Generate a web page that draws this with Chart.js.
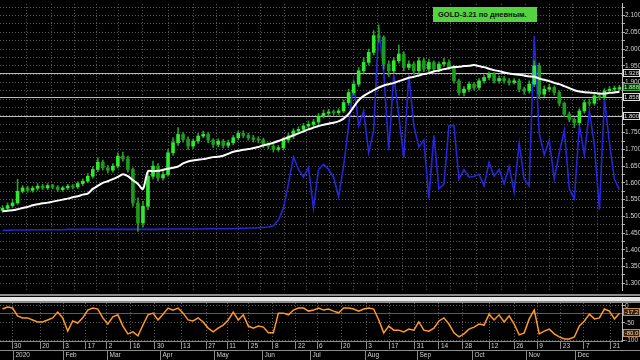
<!DOCTYPE html>
<html>
<head>
<meta charset="utf-8">
<script src="https://cdn.jsdelivr.net/npm/chart.js@4.4.1/dist/chart.umd.min.js"></script>
<style>
  html, body { margin: 0; padding: 0; background: #000; width: 640px; height: 360px; overflow: hidden; }
  #main { position: absolute; left: 0; top: 0; }
  #osc { position: absolute; left: 0; top: 294px; }
  #badge {
    position: absolute; left: 433px; top: 7px; width: 104px; height: 15px;
    background: #52d33f; color: #111; box-sizing: border-box; padding-left: 5px;
    font: bold 7.5px "Liberation Sans", sans-serif; line-height: 15px; white-space: nowrap;
  }
</style>
</head>
<body>
<canvas id="main" width="640" height="294"></canvas>
<canvas id="osc" width="640" height="66"></canvas>
<div id="badge">GOLD-3.21 по дневным.</div>
<script>
// each bar ~ two trading days, Dec 2019 .. Dec 2020
const firstOpen = 1518;
const closes = [
  1524, 1532, 1540, 1575, 1585, 1578, 1584, 1590, 1585, 1592,
  1588, 1580, 1585, 1590, 1588, 1598, 1605, 1620, 1640, 1662,
  1645, 1638, 1650, 1680, 1672, 1640, 1540, 1480, 1530, 1620,
  1650, 1615, 1625, 1690, 1720, 1745, 1730, 1710, 1725, 1740,
  1745, 1728, 1715, 1725, 1712, 1720, 1735, 1748, 1742, 1735,
  1730, 1728, 1712, 1710, 1700, 1705, 1728, 1740, 1755, 1760,
  1770, 1775, 1782, 1800, 1808, 1812, 1810, 1815, 1840, 1870,
  1895, 1935, 1960, 1990, 2040, 2035, 1955, 1935, 1965, 1985,
  1945, 1955, 1935, 1965, 1940, 1960, 1940, 1955, 1960, 1945,
  1905, 1870, 1880, 1895, 1885, 1905, 1915, 1925, 1905, 1912,
  1905, 1900, 1905, 1880, 1875, 1895, 1950, 1865, 1880, 1885,
  1870, 1838, 1805, 1790, 1780, 1815, 1840, 1838, 1860, 1855,
  1875, 1880, 1880, 1885
];
const highs = [
  1532, 1540, 1552, 1611, 1592, 1590, 1590, 1598, 1596, 1598,
  1596, 1592, 1590, 1596, 1595, 1604, 1612, 1628, 1648, 1675,
  1668, 1652, 1658, 1690, 1692, 1680, 1645, 1555, 1545, 1630,
  1665, 1658, 1640, 1700, 1735, 1765, 1752, 1738, 1732, 1748,
  1755, 1750, 1732, 1732, 1730, 1728, 1742, 1755, 1756, 1748,
  1742, 1738, 1734, 1720, 1715, 1712, 1735, 1748, 1762, 1768,
  1778, 1785, 1790, 1808, 1818, 1820, 1818, 1822, 1848, 1880,
  1905, 1945, 1975, 2000, 2055, 2072, 2040, 1965, 1975, 2012,
  1992, 1965, 1962, 1975, 1972, 1970, 1965, 1962, 1972, 1968,
  1952, 1910, 1888, 1902, 1900, 1912, 1922, 1932, 1930, 1920,
  1918, 1912, 1912, 1910, 1886, 1905, 1965, 1958, 1890, 1895,
  1890, 1875, 1842, 1812, 1795, 1822, 1848, 1850, 1868, 1865,
  1882, 1888, 1890, 1892
];
const lows = [
  1512, 1518, 1526, 1536, 1570, 1572, 1572, 1578, 1580, 1580,
  1582, 1574, 1575, 1580, 1582, 1583, 1592, 1600, 1614, 1634,
  1638, 1630, 1632, 1645, 1665, 1632, 1530, 1455, 1468, 1520,
  1612, 1605, 1608, 1620, 1682, 1712, 1722, 1700, 1702, 1718,
  1735, 1720, 1706, 1708, 1704, 1705, 1714, 1728, 1735, 1728,
  1722, 1720, 1705, 1702, 1692, 1694, 1698, 1720, 1732, 1748,
  1752, 1762, 1768, 1775, 1794, 1800, 1802, 1804, 1810, 1832,
  1862, 1888, 1928, 1952, 1982, 2020, 1940, 1918, 1928, 1958,
  1935, 1938, 1925, 1928, 1932, 1932, 1932, 1932, 1948, 1938,
  1898, 1862, 1860, 1872, 1878, 1878, 1898, 1908, 1898, 1898,
  1898, 1892, 1895, 1872, 1865, 1868, 1888, 1852, 1858, 1872,
  1862, 1830, 1798, 1782, 1765, 1772, 1808, 1830, 1832, 1848,
  1850, 1868, 1872, 1875
];
// white moving average
const maLine = [
  1515, 1517, 1518, 1521, 1525, 1528, 1533, 1536, 1539, 1541,
  1544, 1547, 1550, 1553, 1557, 1560, 1565, 1568, 1582, 1591,
  1600, 1605, 1611, 1618, 1626, 1620, 1608, 1597, 1582, 1635,
  1635, 1636, 1639, 1642, 1645, 1649, 1658, 1664, 1667, 1669,
  1671, 1674, 1677, 1678, 1681, 1687, 1693, 1696, 1699, 1701,
  1704, 1707, 1712, 1716, 1720, 1725, 1731, 1736, 1742, 1748,
  1754, 1760, 1765, 1770, 1774, 1777, 1780, 1784, 1792, 1806,
  1827, 1847, 1860, 1869, 1877, 1885, 1891, 1895, 1899, 1904,
  1909, 1914, 1917, 1921, 1925, 1928, 1933, 1936, 1940, 1943,
  1946, 1947, 1949, 1950, 1952, 1949, 1946, 1941, 1937, 1934,
  1930, 1927, 1925, 1923, 1921, 1918, 1917, 1912, 1908, 1904,
  1899, 1895, 1889, 1883, 1877, 1873, 1871, 1870, 1869, 1867,
  1867, 1869, 1870, 1872
];
// blue indicator line (price scale)
const blueLine = [
  1458, 1458, 1459, 1459, 1459, 1459, 1460, 1460, 1460, 1460,
  1460, 1460, 1460, 1461, 1461, 1461, 1461, 1461, 1461, 1461,
  1461, 1461, 1461, 1461, 1461, 1461, 1461, 1461, 1461, 1461,
  1461, 1461, 1462, 1462, 1462, 1462, 1462, 1462, 1462, 1462,
  1462, 1463, 1463, 1463, 1463, 1463, 1463, 1464, 1464, 1465,
  1465, 1466, 1467, 1468, 1472, 1489, 1524, 1597, 1678, 1640,
  1617, 1646, 1524, 1640, 1655, 1640, 1617, 1559, 1649, 1771,
  1902, 1771, 1815, 1690, 1757, 2062, 1931, 1698, 1923, 1801,
  1675, 1923, 1771, 1707, 1728, 1553, 1742, 1582, 1597, 1771,
  1771, 1611, 1640, 1617, 1620, 1626, 1591, 1661, 1620, 1640,
  1597, 1649, 1573, 1719, 1611, 1591, 2039, 1748, 1684, 1728,
  1611, 1690, 1757, 1582, 1553, 1771, 1684, 1815, 1713, 1520,
  1850, 1720, 1610, 1580
];
// oscillator (0 .. -100)
const wpr = [
  -9, -3, -6, -29, -35, -35, -41, -47, -47, -41,
  -35, -18, -35, -74, -44, -50, -35, -12, -6, -9,
  -35, -53, -32, -26, -59, -82, -76, -88, -56, -26,
  -21, -41, -24, -6, -12, -6, -21, -41, -44, -35,
  -47, -65, -76, -65, -56, -41, -18, -41, -26, -59,
  -65, -59, -62, -79, -79, -21, -21, -26, -12, -6,
  -6, -15, -12, -6, -12, -9, -15, -20, -6, -6,
  -9, -15, -9, -6, -9, -41, -79, -59, -71, -71,
  -76, -68, -71, -47, -71, -74, -65, -44, -35, -53,
  -79, -91, -82, -68, -62, -53, -56, -24, -41, -26,
  -47, -29, -53, -85, -79, -38, -12, -82, -74, -68,
  -82, -91, -97, -97, -91, -59, -44, -24, -38, -35,
  -9, -15, -38, -21
];

// time axis (in bar units)
const dayTickPos = [1.9, 7.5, 12.1, 16.6, 20.8, 25.6, 30.4, 35.6, 40.6, 44.8, 49.1, 53.9, 58.5,
                    62.7, 67.5, 72.5, 77.1, 82.2, 87.0, 91.8, 97.0, 102.0, 106.6, 111.3, 115.9, 121.3];
const dayLabels = ['30', '20', '3', '17', '2', '16', '30', '13', '27', '11', '25', '8', '22',
                   '6', '20', '3', '17', '31', '14', '28', '12', '26', '9', '23', '7', '21'];
const monthPos = [2.0, 12.0, 20.9, 31.4, 42.2, 51.7, 61.3, 72.3, 82.6, 93.5, 104.4, 114.1];
const monthLabels = ['2020', 'Feb', 'Mar', 'Apr', 'May', 'Jun', 'Jul', 'Aug', 'Sep', 'Oct', 'Nov', 'Dec'];

const priceLabels = [1300, 1350, 1400, 1450, 1500, 1550, 1600, 1650, 1700, 1750,
                     1800, 1850, 1900, 1950, 2000, 2050, 2100];
const priceLevels = [1928, 1858, 1800];
const priceMarks = [1928, 1888, 1858, 1800];
const lastPrice = 1888;
const wprTicks = [0, -50, -100];
const wprLevel = -20;
const wprMarks = [-17.2, -80.0];

const GRID = '#5a5a5a';
const AXIS_FONT = { family: 'Liberation Sans', size: 6.5 };
const fmtPrice = v => (v / 1000).toFixed(3);

const idx = closes.map((_, i) => i);
const opens = closes.map((c, i) => i === 0 ? firstOpen : closes[i - 1]);

function markBox(ctx, x, y, text, border, fill, color) {
  ctx.fillStyle = fill;
  ctx.fillRect(x, y - 4, 17, 8);
  ctx.strokeStyle = border;
  ctx.lineWidth = 1;
  ctx.strokeRect(x + 0.5, y - 3.5, 16, 7);
  ctx.fillStyle = color;
  ctx.font = '6px "Liberation Sans"';
  ctx.textAlign = 'center';
  ctx.textBaseline = 'middle';
  ctx.fillText(text, x + 8.5, y + 0.5);
}

const mainDecor = {
  id: 'mainDecor',
  beforeDatasetsDraw(chart) {
    const { ctx, chartArea, scales: { y } } = chart;
    ctx.save();
    ctx.strokeStyle = '#bdbdbd';
    ctx.lineWidth = 1;
    priceLevels.forEach(p => {
      const py = Math.round(y.getPixelForValue(p)) + 0.5;
      ctx.beginPath();
      ctx.moveTo(chartArea.left, py);
      ctx.lineTo(640, py);
      ctx.stroke();
    });
    ctx.restore();
  },
  afterDraw(chart) {
    const { ctx, chartArea, scales: { y } } = chart;
    ctx.save();
    priceMarks.forEach(p => {
      const py = Math.round(y.getPixelForValue(p));
      if (p === lastPrice) markBox(ctx, chartArea.right + 1, py, fmtPrice(p), '#3fae3f', '#0b3a0b', '#9dff9d');
      else markBox(ctx, chartArea.right + 1, py, fmtPrice(p), '#e0e0e0', '#000', '#e0e0e0');
    });
    ctx.restore();
  }
};

new Chart(document.getElementById('main'), {
  type: 'bar',
  data: {
    datasets: [
      {
        type: 'line', order: 0,
        data: idx.map(i => ({ x: i, y: maLine[i] })),
        borderColor: '#ffffff', borderWidth: 2, pointRadius: 0, tension: 0.3
      },
      {
        type: 'bar', order: 1, grouped: false,
        data: idx.map(i => ({ x: i, y: [opens[i], closes[i]] })),
        backgroundColor: c => closes[c.dataIndex] >= opens[c.dataIndex] ? '#2fe82f' : '#1c9c1c',
        barThickness: 3, minBarLength: 1
      },
      {
        type: 'bar', order: 2, grouped: false,
        data: idx.map(i => ({ x: i, y: [lows[i], highs[i]] })),
        backgroundColor: '#2a9f2a', barThickness: 1
      },
      {
        type: 'line', order: 3,
        data: idx.map(i => ({ x: i, y: blueLine[i] })),
        borderColor: '#2626d8', borderWidth: 1.6, pointRadius: 0, tension: 0
      }
    ]
  },
  options: {
    responsive: false, animation: false, events: [],
    layout: { padding: 0 },
    plugins: { legend: { display: false }, tooltip: { enabled: false } },
    scales: {
      x: {
        type: 'linear', min: -0.5, max: 123.5, offset: false,
        afterBuildTicks: s => { s.ticks = dayTickPos.map(v => ({ value: v })); },
        afterFit: s => { s.height = 0; },
        ticks: { display: false },
        grid: { color: GRID, drawTicks: false },
        border: { display: false, dash: [1, 2] }
      },
      y: {
        position: 'right', min: 1279.6, max: 2134.9,
        afterBuildTicks: s => {
          const t = [];
          priceLabels.forEach(p => { t.push({ value: p }); if (p + 25 < s.max) t.push({ value: p + 25 }); });
          s.ticks = t;
        },
        afterFit: s => { s.width = 18; },
        ticks: {
          color: '#d0d0d0', font: AXIS_FONT, padding: 0, autoSkip: false,
          callback: v => priceLabels.includes(v) ? fmtPrice(v) : ''
        },
        grid: { color: GRID, tickLength: 3, tickColor: '#aaaaaa', tickBorderDash: [] },
        border: { display: true, color: '#bdbdbd', dash: [1, 2] }
      }
    }
  },
  plugins: [mainDecor]
});

const oscDecor = {
  id: 'oscDecor',
  beforeDraw(chart) {
    const { ctx } = chart;
    ctx.save();
    ctx.fillStyle = '#8c8c8c';
    ctx.fillRect(0, 0, 640, 2);
    ctx.fillStyle = '#e8e8e8';
    ctx.fillRect(0, 3, 640, 4);
    ctx.fillStyle = '#8c8c8c';
    ctx.fillRect(0, 7, 640, 2);
    ctx.restore();
  },
  beforeDatasetsDraw(chart) {
    const { ctx, chartArea, scales: { y } } = chart;
    ctx.save();
    ctx.strokeStyle = '#2e7d2e';
    ctx.lineWidth = 1;
    const py = Math.round(y.getPixelForValue(wprLevel)) + 0.5;
    ctx.beginPath();
    ctx.moveTo(chartArea.left, py);
    ctx.lineTo(chartArea.right, py);
    ctx.stroke();
    ctx.restore();
  },
  afterDraw(chart) {
    const { ctx, chartArea, scales: { x, y } } = chart;
    ctx.save();
    wprMarks.forEach(v => {
      markBox(ctx, chartArea.right + 1, Math.round(y.getPixelForValue(v)), v.toFixed(1), '#c08a5a', '#3a2410', '#f0d0b0');
    });
    // month row of the time axis
    const rowTop = x.top + 9;
    ctx.strokeStyle = '#8a8a8a';
    ctx.lineWidth = 1;
    ctx.beginPath();
    ctx.moveTo(0, rowTop + 0.5);
    ctx.lineTo(640, rowTop + 0.5);
    ctx.stroke();
    ctx.fillStyle = '#cfcfcf';
    ctx.font = '6.5px "Liberation Sans"';
    ctx.textAlign = 'left';
    ctx.textBaseline = 'top';
    monthPos.forEach((m, i) => {
      const px = Math.round(x.getPixelForValue(m)) + 0.5;
      ctx.beginPath();
      ctx.moveTo(px, rowTop);
      ctx.lineTo(px, 66);
      ctx.stroke();
      ctx.fillText(monthLabels[i], px + 2, rowTop + 2);
    });
    ctx.restore();
  }
};

new Chart(document.getElementById('osc'), {
  type: 'line',
  data: {
    datasets: [{
      data: idx.map(i => ({ x: i, y: wpr[i] })),
      borderColor: '#ff9a2a', borderWidth: 1.5, pointRadius: 0, tension: 0
    }]
  },
  options: {
    responsive: false, animation: false, events: [],
    layout: { padding: { top: 9 } },
    plugins: { legend: { display: false }, tooltip: { enabled: false } },
    scales: {
      x: {
        type: 'linear', min: -0.5, max: 123.5, offset: false,
        afterBuildTicks: s => { s.ticks = dayTickPos.map(v => ({ value: v })); },
        afterFit: s => { s.height = 19; },
        ticks: {
          color: '#cfcfcf', font: AXIS_FONT, autoSkip: false, maxRotation: 0,
          align: 'start', labelOffset: 2, padding: -7,
          callback: (v, i) => dayLabels[i]
        },
        grid: { color: GRID, tickLength: 8, tickColor: '#8a8a8a', tickBorderDash: [] },
        border: { display: true, color: '#8a8a8a', dash: [1, 2] }
      },
      y: {
        position: 'right', min: -102.94, max: 8.8,
        afterBuildTicks: s => { s.ticks = wprTicks.map(v => ({ value: v })); },
        afterFit: s => { s.width = 18; },
        ticks: { color: '#d0d0d0', font: AXIS_FONT, padding: 0, autoSkip: false },
        grid: { color: GRID, tickLength: 3, tickColor: '#aaaaaa', tickBorderDash: [] },
        border: { display: true, color: '#bdbdbd', dash: [1, 2] }
      }
    }
  },
  plugins: [oscDecor]
});
</script>
</body>
</html>
